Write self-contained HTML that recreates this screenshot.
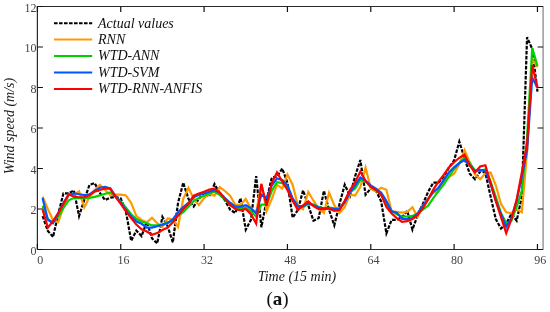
<!DOCTYPE html>
<html><head><meta charset="utf-8"><style>
html,body{margin:0;padding:0;background:#fff;}
body{width:550px;height:312px;overflow:hidden;position:relative;}
svg{position:absolute;left:0;top:0;}
.tl{font-family:"Liberation Serif",serif;font-size:12px;fill:#444;}
.lg{font-family:"Liberation Serif",serif;font-style:italic;font-size:14px;fill:#111;}
.ax{font-family:"Liberation Serif",serif;font-style:italic;font-size:14px;fill:#1a1a1a;}
.cap{font-family:"Liberation Serif",serif;font-size:19px;fill:#111;}
</style></head><body>
<svg width="550" height="312" viewBox="0 0 550 312">
<g fill="none" stroke-width="2.2" stroke-linejoin="miter" stroke-miterlimit="4">
<polyline points="42.61,216.09 47.82,230.87 53.03,236.94 58.24,214.06 63.44,193.41 68.65,193.41 73.86,190.37 79.07,216.09 84.28,199.89 89.49,184.90 94.70,183.08 99.91,193.00 105.12,200.09 110.33,197.66 115.53,196.85 120.74,198.47 125.95,211.63 131.16,240.79 136.37,230.67 141.58,236.13 146.79,221.56 152.00,238.36 157.21,243.43 162.42,216.90 167.62,226.21 172.83,242.41 178.04,202.93 183.25,182.68 188.46,198.88 193.67,206.57 198.88,198.88 204.09,192.60 209.30,196.44 214.51,184.09 219.72,193.41 224.92,200.29 230.13,209.61 235.34,213.05 240.55,198.27 245.76,229.66 250.97,219.73 256.18,176.19 261.39,227.22 266.60,200.09 271.80,177.61 277.01,176.60 282.22,168.50 287.43,182.68 292.64,217.71 297.85,210.01 303.06,190.37 308.27,205.35 313.48,220.75 318.69,218.11 323.89,190.78 329.10,210.01 334.31,225.40 339.52,203.94 344.73,184.70 349.94,195.84 355.15,176.19 360.36,160.00 365.57,194.62 370.78,188.55 375.98,190.78 381.19,201.51 386.40,233.30 391.61,219.94 396.82,219.94 402.03,217.10 407.24,210.82 412.45,229.66 417.66,215.07 422.87,203.94 428.07,191.99 433.28,182.68 438.49,182.68 443.70,176.60 448.91,167.69 454.12,160.40 459.33,141.57 464.54,158.38 469.75,173.76 474.96,179.23 480.16,171.54 485.37,172.55 490.58,196.44 495.79,219.12 501.00,228.44 506.21,223.78 511.42,213.86 516.63,220.75 521.84,196.85 527.05,37.28 532.25,49.03 537.46,91.55" stroke="#000" stroke-dasharray="3.6 1.4" />
<polyline points="42.61,196.65 47.82,209.00 53.03,220.14 58.24,222.16 63.44,207.38 68.65,194.22 73.86,195.03 79.07,191.18 84.28,207.38 89.49,196.85 94.70,189.97 99.91,184.70 105.12,189.97 110.33,195.43 115.53,194.62 120.74,194.62 125.95,195.43 131.16,202.93 136.37,216.09 141.58,219.94 146.79,222.37 152.00,217.71 157.21,223.18 162.42,227.02 167.62,218.52 172.83,219.33 178.04,227.02 183.25,198.88 188.46,187.74 193.67,198.88 198.88,204.95 204.09,198.06 209.30,194.22 214.51,195.63 219.72,187.13 224.92,190.98 230.13,195.63 235.34,204.95 240.55,204.95 245.76,198.88 250.97,209.00 256.18,212.04 261.39,183.89 266.60,211.03 271.80,198.88 277.01,184.70 282.22,188.55 287.43,174.57 292.64,184.70 297.85,205.35 303.06,209.20 308.27,191.99 313.48,200.70 318.69,208.39 323.89,213.05 329.10,192.80 334.31,205.35 339.52,213.05 344.73,206.97 349.94,194.62 355.15,195.63 360.36,186.93 365.57,167.69 370.78,188.55 375.98,191.59 381.19,187.74 386.40,189.76 391.61,211.43 396.82,211.84 402.03,212.64 407.24,211.84 412.45,207.18 417.66,217.10 422.87,205.76 428.07,198.88 433.28,192.80 438.49,190.78 443.70,180.85 448.91,177.00 454.12,173.76 459.33,163.84 464.54,150.07 469.75,162.22 474.96,174.57 480.16,179.23 485.37,173.16 490.58,172.35 495.79,185.31 501.00,203.94 506.21,212.24 511.42,213.05 516.63,209.20 521.84,212.24 527.05,152.30 532.25,59.15 537.46,67.25" stroke="#ff9900" />
<polyline points="42.61,205.76 47.82,219.12 53.03,222.37 58.24,216.49 63.44,207.99 68.65,200.29 73.86,198.06 79.07,198.06 84.28,198.06 89.49,197.86 94.70,196.85 99.91,195.43 105.12,193.81 110.33,192.40 115.53,196.24 120.74,201.51 125.95,207.78 131.16,214.26 136.37,219.12 141.58,221.56 146.79,223.18 152.00,225.40 157.21,225.40 162.42,224.59 167.62,222.37 172.83,220.75 178.04,215.48 183.25,212.04 188.46,206.77 193.67,200.90 198.88,198.06 204.09,195.63 209.30,193.41 214.51,191.79 219.72,194.82 224.92,199.48 230.13,204.95 235.34,208.19 240.55,208.19 245.76,207.38 250.97,211.23 256.18,216.69 261.39,204.54 266.60,204.54 271.80,190.78 277.01,182.27 282.22,183.08 287.43,186.12 292.64,199.28 297.85,206.97 303.06,206.97 308.27,203.94 313.48,204.54 318.69,206.97 323.89,208.39 329.10,207.58 334.31,208.39 339.52,208.39 344.73,201.51 349.94,192.40 355.15,188.55 360.36,180.04 365.57,181.46 370.78,186.93 375.98,189.97 381.19,194.62 386.40,204.14 391.61,211.03 396.82,214.26 402.03,216.49 407.24,216.49 412.45,215.88 417.66,213.45 422.87,209.61 428.07,205.76 433.28,198.06 438.49,191.18 443.70,184.70 448.91,176.60 454.12,168.91 459.33,163.03 464.54,157.77 469.75,163.03 474.96,170.32 480.16,170.93 485.37,169.31 490.58,181.46 495.79,196.85 501.00,213.05 506.21,223.18 511.42,220.75 516.63,206.97 521.84,190.78 527.05,138.12 532.25,48.01 537.46,66.03" stroke="#00d200" />
<polyline points="42.61,198.06 47.82,219.73 53.03,223.18 58.24,213.45 63.44,202.72 68.65,195.03 73.86,193.41 79.07,194.22 84.28,195.03 89.49,194.42 94.70,190.78 99.91,187.74 105.12,186.93 110.33,188.55 115.53,196.24 120.74,202.32 125.95,210.01 131.16,216.49 136.37,221.56 141.58,223.78 146.79,227.63 152.00,227.63 157.21,226.21 162.42,224.59 167.62,223.18 172.83,219.33 178.04,212.24 183.25,206.97 188.46,202.93 193.67,197.25 198.88,194.82 204.09,193.41 209.30,191.79 214.51,190.37 219.72,192.60 224.92,198.06 230.13,202.72 235.34,206.57 240.55,206.57 245.76,205.15 250.97,208.19 256.18,213.45 261.39,194.62 266.60,197.86 271.80,185.31 277.01,178.42 282.22,180.04 287.43,185.31 292.64,198.47 297.85,206.16 303.06,206.16 308.27,203.13 313.48,205.35 318.69,207.58 323.89,208.39 329.10,208.39 334.31,209.20 339.52,209.20 344.73,202.32 349.94,192.40 355.15,185.31 360.36,177.61 365.57,180.85 370.78,185.31 375.98,188.55 381.19,192.80 386.40,201.10 391.61,211.23 396.82,212.64 402.03,218.92 407.24,218.92 412.45,218.11 417.66,213.45 422.87,205.76 428.07,198.88 433.28,191.99 438.49,187.74 443.70,180.04 448.91,172.55 454.12,167.29 459.33,163.03 464.54,160.00 469.75,165.26 474.96,171.13 480.16,169.92 485.37,170.73 490.58,183.89 495.79,200.90 501.00,214.06 506.21,226.82 511.42,217.71 516.63,200.70 521.84,176.60 527.05,150.27 532.25,77.78 537.46,87.50" stroke="#0055ff" />
<polyline points="42.61,209.61 47.82,227.63 53.03,221.15 58.24,213.05 63.44,203.94 68.65,194.22 73.86,196.65 79.07,197.25 84.28,197.25 89.49,195.23 94.70,191.59 99.91,189.97 105.12,188.55 110.33,188.55 115.53,196.85 120.74,203.94 125.95,211.23 131.16,218.11 136.37,224.59 141.58,229.25 146.79,231.48 152.00,234.72 157.21,233.10 162.42,230.06 167.62,227.63 172.83,222.37 178.04,215.48 183.25,209.20 188.46,203.94 193.67,195.63 198.88,193.41 204.09,191.79 209.30,189.56 214.51,188.75 219.72,192.60 224.92,198.88 230.13,204.95 235.34,209.00 240.55,210.42 245.76,209.00 250.97,214.26 256.18,223.58 261.39,183.89 266.60,205.96 271.80,183.08 277.01,172.35 282.22,181.46 287.43,189.97 292.64,200.70 297.85,210.01 303.06,205.35 308.27,201.51 313.48,206.16 318.69,209.20 323.89,209.20 329.10,208.39 334.31,210.82 339.52,210.01 344.73,200.70 349.94,189.97 355.15,182.27 360.36,171.54 365.57,180.85 370.78,186.93 375.98,189.97 381.19,194.82 386.40,206.97 391.61,213.45 396.82,218.11 402.03,221.96 407.24,221.15 412.45,218.92 417.66,215.07 422.87,208.19 428.07,199.69 433.28,189.56 438.49,181.66 443.70,174.98 448.91,167.49 454.12,162.22 459.33,157.77 464.54,154.53 469.75,165.46 474.96,172.55 480.16,166.48 485.37,165.26 490.58,183.08 495.79,200.90 501.00,217.10 506.21,233.10 511.42,219.12 516.63,199.89 521.84,172.55 527.05,144.20 532.25,65.22 537.46,87.50" stroke="#ff0000" />
</g>
<path d="M37.4,249.5V6.5H543.1M37.4,249.5H543.1" fill="none" stroke="#2a2a2a" stroke-width="1.2"/>
<path d="M543.1,6.5V249.5" fill="none" stroke="#8a8a8a" stroke-width="1.3"/>
<path d="M37.40,249.5V244.0M37.40,6.5V12.0M120.74,249.5V244.0M120.74,6.5V12.0M204.09,249.5V244.0M204.09,6.5V12.0M287.43,249.5V244.0M287.43,6.5V12.0M370.78,249.5V244.0M370.78,6.5V12.0M454.12,249.5V244.0M454.12,6.5V12.0M537.46,249.5V244.0M537.46,6.5V12.0M37.4,249.50H42.9M543.1,249.50H537.6M37.4,209.00H42.9M543.1,209.00H537.6M37.4,168.50H42.9M543.1,168.50H537.6M37.4,128.00H42.9M543.1,128.00H537.6M37.4,87.50H42.9M543.1,87.50H537.6M37.4,47.00H42.9M543.1,47.00H537.6M37.4,6.50H42.9M543.1,6.50H537.6" stroke="#111" stroke-width="1.2" fill="none"/>
<g class="tl">
<text x="40.20" y="264.3" text-anchor="middle">0</text>
<text x="123.54" y="264.3" text-anchor="middle">16</text>
<text x="206.89" y="264.3" text-anchor="middle">32</text>
<text x="290.23" y="264.3" text-anchor="middle">48</text>
<text x="373.58" y="264.3" text-anchor="middle">64</text>
<text x="456.92" y="264.3" text-anchor="middle">80</text>
<text x="540.26" y="264.3" text-anchor="middle">96</text>
<text x="36.5" y="254.50" text-anchor="end">0</text>
<text x="36.5" y="214.00" text-anchor="end">2</text>
<text x="36.5" y="173.50" text-anchor="end">4</text>
<text x="36.5" y="133.00" text-anchor="end">6</text>
<text x="36.5" y="92.50" text-anchor="end">8</text>
<text x="36.5" y="52.00" text-anchor="end">10</text>
<text x="36.5" y="11.50" text-anchor="end">12</text>
</g>
<g class="lg">
<line x1="54" y1="23.2" x2="92.2" y2="23.2" stroke="#000" stroke-width="2" stroke-dasharray="3.6 1.4"/>
<text x="98" y="27.5">Actual values</text>
<line x1="54" y1="39.6" x2="92.2" y2="39.6" stroke="#ff9900" stroke-width="2"/>
<text x="98" y="43.9">RNN</text>
<line x1="54" y1="56.0" x2="92.2" y2="56.0" stroke="#00d200" stroke-width="2"/>
<text x="98" y="60.3">WTD-ANN</text>
<line x1="54" y1="72.6" x2="92.2" y2="72.6" stroke="#0055ff" stroke-width="2"/>
<text x="98" y="76.9">WTD-SVM</text>
<line x1="54" y1="89.0" x2="92.2" y2="89.0" stroke="#ff0000" stroke-width="2"/>
<text x="98" y="93.3">WTD-RNN-ANFIS</text>
</g>
<text class="ax" x="297" y="281" text-anchor="middle">Time (15 min)</text>
<text class="ax" transform="translate(13.8,126) rotate(-90)" text-anchor="middle">Wind speed (m/s)</text>
<text class="cap" x="277.6" y="304.6" text-anchor="middle">(<tspan font-weight="bold">a</tspan>)</text>
</svg>
</body></html>
